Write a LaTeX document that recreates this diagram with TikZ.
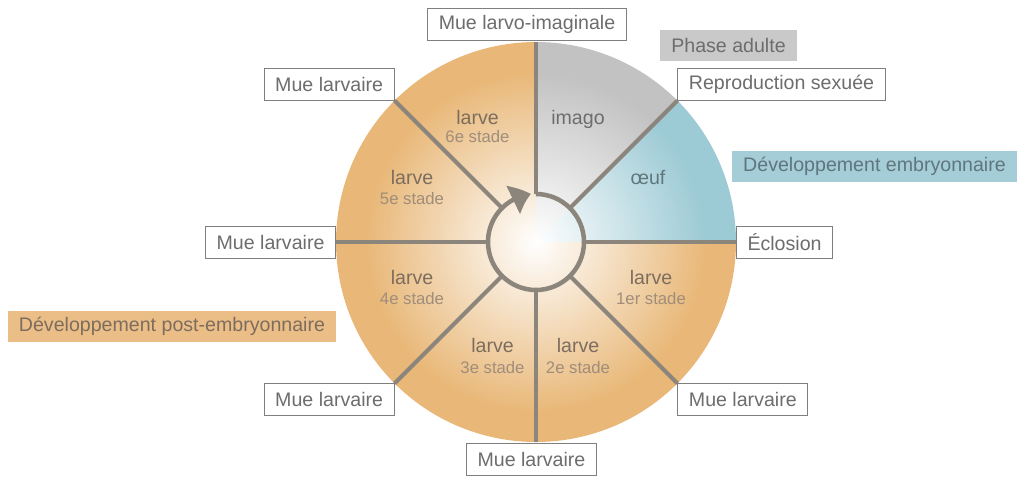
\documentclass[tikz,border=0pt]{standalone}
\usepackage{fontspec}
\setmainfont{Liberation Sans}
\usetikzlibrary{arrows.meta,bending,fadings}
\definecolor{wheelorange}{HTML}{E9B878}
\definecolor{wheelgrey}{HTML}{C2C2C2}
\definecolor{wheelblue}{HTML}{9CCAD5}
\definecolor{wheelline}{HTML}{8B857C}
\definecolor{boxline}{HTML}{7F7F7F}
\definecolor{boxtext}{HTML}{6D6D6D}
\definecolor{larvetext}{HTML}{7D6D5E}
\definecolor{stadetext}{HTML}{A08D7A}
\definecolor{oeuftext}{HTML}{5F767C}
\definecolor{taggrey}{HTML}{C9C9C9}
\definecolor{tagblue}{HTML}{A4CDD8}
\definecolor{tagorange}{HTML}{EBBE87}
\tikzfading[name=centrefade, inner color=transparent!0, outer color=transparent!100]
\begin{document}
\begin{tikzpicture}[x=1pt, y=1pt,
  box/.style = {draw=boxline, line width=1pt, fill=white, text=boxtext,
    font=\fontsize{19.6}{22}\selectfont, inner xsep=11pt, minimum height=32pt},
  tag/.style = {box, draw=none, minimum height=31pt},
  big/.style = {font=\fontsize{19.6}{22}\selectfont, anchor=base, text=larvetext},
  small/.style = {font=\fontsize{16.7}{20}\selectfont, anchor=base, text=stadetext},
  spoke/.style = {draw=wheelline, line width=4pt}]
\useasboundingbox (-536,-243) rectangle (488,242);

% wheel
\foreach \a/\c in {90/wheelgrey, 45/wheelblue, 0/wheelorange, -45/wheelorange,
    -90/wheelorange, -135/wheelorange, 180/wheelorange, 135/wheelorange}
  \fill[\c] (0,0) -- (\a:200) arc[start angle=\a, delta angle=-45, radius=200] -- cycle;
\fill[white, path fading=centrefade] (0,0) circle (170);
\foreach \a in {90,45,...,-225}
  \draw[spoke] (\a:48) -- (\a:200);
\draw[draw=wheelline, line width=4.5pt, -{Triangle[width=30pt, length=19pt, bend]}]
  (90:48) arc[start angle=90, end angle=-264, radius=48];

% stages
\node[big, text=boxtext] (imago) at (42,118) {imago};
\node[big, text=oeuftext] (oeuf) at (112,58) {œuf};
\node[big] (l1) at (115,-42) {larve};
\node[small] (s1) at (115,-62) {1er stade};
\node[big] (l2) at (42,-110.7) {larve};
\node[small] (s2) at (42,-131.3) {2e stade};
\node[big] (l3) at (-43.5,-110.7) {larve};
\node[small] (s3) at (-43.5,-131.3) {3e stade};
\node[big] (l4) at (-124,-42) {larve};
\node[small] (s4) at (-124,-62) {4e stade};
\node[big] (l5) at (-124,58) {larve};
\node[small] (s5) at (-124,38) {5e stade};
\node[big] (l6) at (-58.5,118) {larve};
\node[small] (s6) at (-58.5,99.3) {6e stade};

% moults
\node[box, anchor=south] (m7) at (-9,201) {Mue larvo-imaginale};
\node[box, anchor=south west] (rep) at (45:200) {Reproduction sexuée};
\node[box, anchor=west] (ecl) at (0:200) {Éclosion};
\node[box, anchor=north west] (m1) at (-45:200) {Mue larvaire};
\node[box, anchor=north] (m2) at (-4.5,-201) {Mue larvaire};
\node[box, anchor=north east] (m3) at (-135:200) {Mue larvaire};
\node[box, anchor=east] (m4) at (180:200) {Mue larvaire};
\node[box, anchor=south east] (m5) at (135:200) {Mue larvaire};

% phases
\node[tag, fill=taggrey] (adulte) at (192.5,196.5) {Phase adulte};
\node[tag, fill=tagblue, text=oeuftext] (embryo) at (338.5,76) {Développement embryonnaire};
\node[tag, fill=tagorange, text=larvetext] (post) at (-364,-84) {Développement post-embryonnaire};
\end{tikzpicture}
\end{document}
